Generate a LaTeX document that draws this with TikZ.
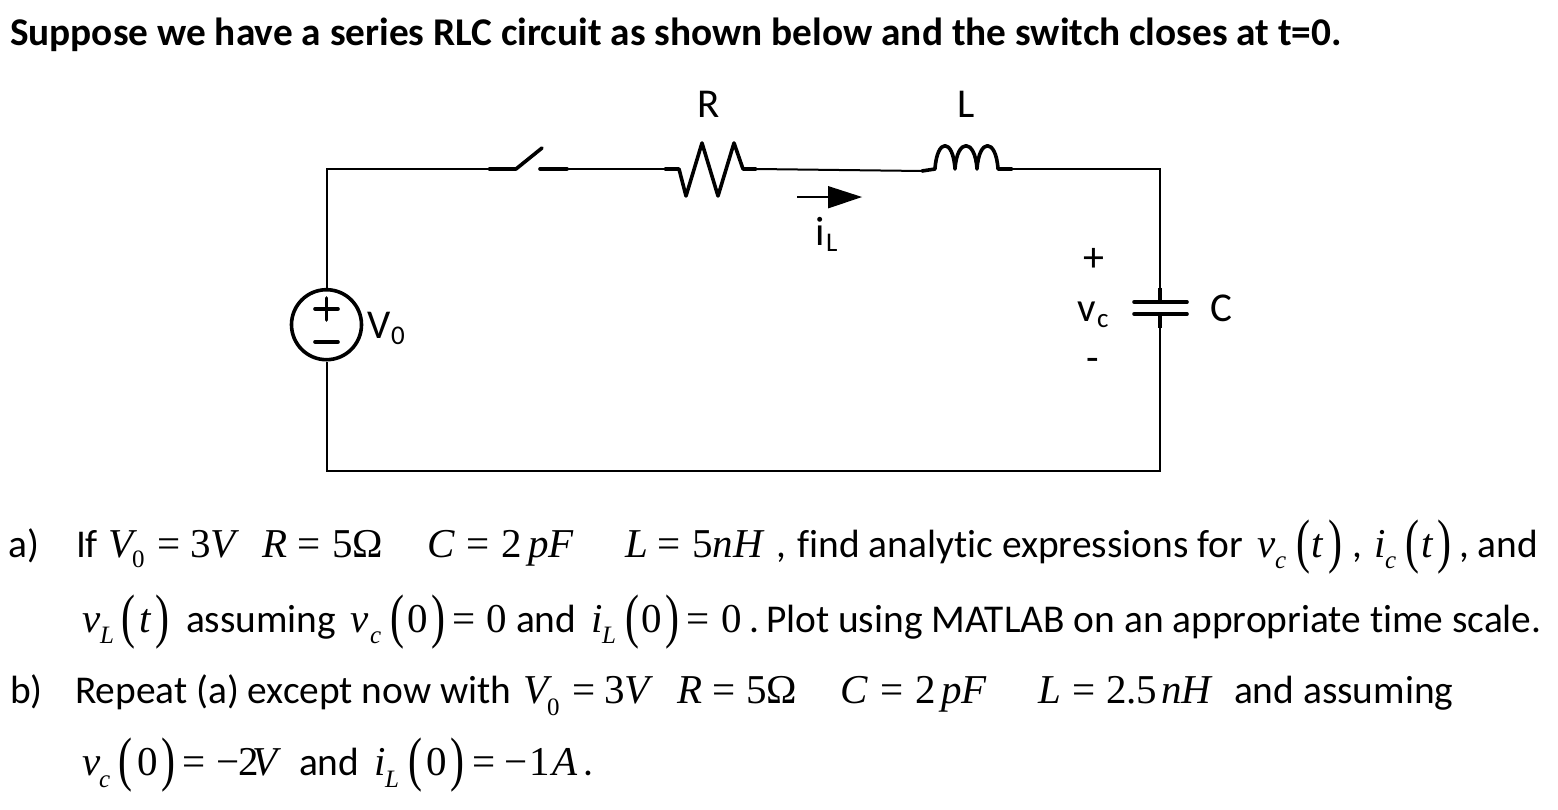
\documentclass[tikz,border=0pt]{standalone}
\usepackage{graphicx}
\usepackage{fontspec}
\setmainfont{Carlito}[Ligatures=NoCommon]
\newfontfamily\mathf{Liberation Serif}
\newcommand{\sz}[1]{\fontsize{#1}{#1}\selectfont}
\newcommand{\mi}[1]{{\mathf\itshape\sz{41}#1}}
\newcommand{\mr}[1]{{\mathf\sz{41}#1}}
\newcommand{\ms}[1]{{\mathf\itshape\sz{25}#1}}
\newcommand{\mz}[1]{{\mathf\sz{25}#1}}
\newcommand{\pl}{\raisebox{-4pt}{\scalebox{.7}[1]{\mathf\sz{60}(}}}
\newcommand{\pr}{\raisebox{-4pt}{\scalebox{.7}[1]{\mathf\sz{60})}}}
\newcommand{\tn}[4]{\node[txt] (#1) at (#2,#3) {#4};}
\tikzset{
  txt/.style={anchor=base west,inner sep=0pt,outer sep=0pt,font=\sz{39.4}},
  lbl/.style={anchor=base west,inner sep=0pt,outer sep=0pt,font=\sz{41}},
  sublbl/.style={anchor=base west,inner sep=0pt,outer sep=0pt,font=\sz{27}},
  ctxt/.style={anchor=base,inner sep=0pt,outer sep=0pt,font=\sz{41}},
  wire/.style={draw=black,line width=2pt},
  comp/.style={draw=black,line width=3.6pt,line cap=round,line join=round}
}
\begin{document}
\begin{tikzpicture}[x=1pt,y=-1pt]
\useasboundingbox (0,0) rectangle (1558,810);
% title
\node[txt,font=\sz{39.3}\bfseries] (title) at (10,46) {Suppose we have a series RLC circuit as shown below and the switch closes at t=0.};
% circuit points
\coordinate (sw1) at (489,169);
\coordinate (sw2) at (516,169);
\coordinate (sw3) at (542,148);
\coordinate (sw4) at (540,169);
\coordinate (sw5) at (567,169);
\coordinate (r1) at (665,169);
\coordinate (r2) at (756,169);
\coordinate (l1) at (922,171);
\coordinate (l2) at (1012,169);
\coordinate (tr) at (1160,169);
\coordinate (tl) at (326.5,169);
\coordinate (c1) at (1160,288);
\coordinate (c2) at (1160,302);
\coordinate (c3) at (1160,314);
\coordinate (c4) at (1160,328);
\coordinate (br) at (1160,471);
\coordinate (bl) at (326.5,471);
\node[draw=black,line width=3.6pt,circle,minimum size=70pt,inner sep=0pt] (src) at (326.5,324.7) {};
\draw[wire] (src.north) -- (tl) -- (sw1);
\draw[wire] (sw5) -- (r1);
\draw[wire] (r2) -- (l1);
\draw[wire] (l2) -- (tr) -- (c1);
\draw[wire] (c4) -- (br) -- (bl) -- (src.south);
% switch
\draw[comp] (sw1) -- (sw2) -- (sw3);
\draw[comp] (sw4) -- (sw5);
% resistor
\draw[comp] (r1) -- (679,169) -- (686,196) -- (702,143) -- (718,196) -- (734,143) -- (743,169) -- (r2);
% inductor
\draw[comp] (l1) -- (935,169) .. controls (937,138) and (953,138) .. (955,169)
  .. controls (957,138) and (975,138) .. (977,169)
  .. controls (979,138) and (996,138) .. (998,169) -- (l2);
% capacitor
\draw[comp,line cap=butt] (c1) -- (c2);
\draw[comp,line cap=butt] (c3) -- (c4);
\draw[comp] (1134,302) -- (1187,302);
\draw[comp] (1134,314) -- (1187,314);
% source signs
\draw[comp] (315,309) -- (338,309);
\draw[comp] (326.5,298) -- (326.5,320);
\draw[comp] (315,342) -- (338,342);
% current arrow
\coordinate (a1) at (797,197);
\coordinate (a2) at (828,197);
\draw[wire] (a1) -- (a2);
\fill[black] (828,186) -- (862,197) -- (828,208.5) -- cycle;
% circuit labels
\node[ctxt] (lR) at (709,118) {R};
\node[ctxt] (lL) at (966,118) {L};
\node[lbl] (lV) at (367,338) {V};
\node[sublbl] (lVs) at (391,344) {0};
\node[lbl] (li) at (815,246) {i};
\node[sublbl] (lis) at (826,252) {L};
\node[ctxt,font=\sz{42}] (lp) at (1094,272) {+};
\node[lbl] (lv) at (1077,322) {v};
\node[sublbl] (lvs) at (1097,327) {c};
\node[ctxt] (lm) at (1093,371) {-};
\node[lbl] (lC) at (1210,322) {C};
% line a
\tn{a0}{9}{557}{a)}
\tn{a1t}{76}{557}{If}
\tn{a2t}{108}{557}{\mi{V}}
\tn{a3}{132}{567}{\mz{0}}
\tn{a4}{157}{557}{\mr{=}}
\tn{a5}{190}{557}{\mr{3}\mi{V}}
\tn{a6}{262}{557}{\mi{R}}
\tn{a7}{297}{557}{\mr{=}}
\tn{a8}{332}{557}{\mr{5Ω}}
\tn{a9}{427}{557}{\mi{C}}
\tn{a10}{466}{557}{\mr{=}}
\tn{a11}{501}{557}{\mr{2}}
\tn{a11b}{528}{557}{\mi{pF}}
\tn{a12}{625}{557}{\mi{L}}
\tn{a13}{657}{557}{\mr{=}}
\tn{a14}{692}{557}{\mr{5}\mi{nH}}
\tn{a15}{776}{557}{,}
\tn{a15b}{797.5}{557}{find analytic expressions for}
\tn{a16}{1257}{557}{\mi{v}}
\tn{a17}{1275}{568}{\ms{c}}
\tn{a18}{1296}{557}{\pl}
\tn{a19}{1311}{557}{\mi{t}}
\tn{a20}{1328}{557}{\pr}
\tn{a21}{1352}{557}{,}
\tn{a22}{1374}{557}{\mi{i}}
\tn{a23}{1385}{568}{\ms{c}}
\tn{a24}{1405}{557}{\pl}
\tn{a25}{1421}{557}{\mi{t}}
\tn{a26}{1437}{557}{\pr}
\tn{a27}{1459}{557}{, and}
% line b
\tn{b1}{82}{632}{\mi{v}}
\tn{b2}{100}{643}{\ms{L}}
\tn{b3}{121}{632}{\pl}
\tn{b4}{139}{632}{\mi{t}}
\tn{b5}{155}{632}{\pr}
\tn{b6}{186}{632}{assuming}
\tn{b7}{350}{632}{\mi{v}}
\tn{b8}{370}{643}{\ms{c}}
\tn{b9}{390}{632}{\pl}
\tn{b10}{407}{632}{\mr{0}}
\tn{b11}{431}{632}{\pr}
\tn{b12}{452}{632}{\mr{=}}
\tn{b13}{486}{632}{\mr{0}}
\tn{b14}{516}{632}{and}
\tn{b15}{591}{632}{\mi{i}}
\tn{b16}{602}{643}{\ms{L}}
\tn{b17}{625}{632}{\pl}
\tn{b18}{641}{632}{\mr{0}}
\tn{b19}{665}{632}{\pr}
\tn{b20}{686}{632}{\mr{=}}
\tn{b21}{721}{632}{\mr{0}}
\tn{b22}{749}{632}{.}
\tn{b23}{766}{632}{Plot using MATLAB on an appropriate time scale.}
% line c
\tn{c0}{10}{703.5}{b)}
\tn{c1t}{75}{703.5}{Repeat (a) except now with}
\tn{c2t}{523}{703.5}{\mi{V}}
\tn{c3t}{547}{715}{\mz{0}}
\tn{c4t}{572}{703.5}{\mr{=}}
\tn{c5}{604}{703.5}{\mr{3}\mi{V}}
\tn{c6}{677}{703.5}{\mi{R}}
\tn{c7}{712}{703.5}{\mr{=}}
\tn{c8}{746}{703.5}{\mr{5Ω}}
\tn{c9}{840}{703.5}{\mi{C}}
\tn{c10}{880}{703.5}{\mr{=}}
\tn{c11}{915}{703.5}{\mr{2}}
\tn{c11b}{941}{703.5}{\mi{pF}}
\tn{c12}{1038}{703.5}{\mi{L}}
\tn{c13}{1072}{703.5}{\mr{=}}
\tn{c14}{1106}{703.5}{\mr{2.5}}
\tn{c14b}{1161}{703.5}{\mi{nH}}
\tn{c15}{1234}{703.5}{and assuming}
% line d
\tn{d1}{82}{775}{\mi{v}}
\tn{d2}{99}{787}{\ms{c}}
\tn{d3}{118}{775}{\pl}
\tn{d4}{137}{775}{\mr{0}}
\tn{d5}{161}{775}{\pr}
\tn{d6}{182}{775}{\mr{=}}
\tn{d7}{216}{775}{\mr{−}}
\tn{d7b}{238}{775}{\mr{2}}
\tn{d7c}{252}{775}{\mi{V}}
\tn{d8}{299}{775}{and}
\tn{d9}{374}{775}{\mi{i}}
\tn{d10}{385}{787}{\ms{L}}
\tn{d11}{408}{775}{\pl}
\tn{d12}{426}{775}{\mr{0}}
\tn{d13}{450}{775}{\pr}
\tn{d14}{472}{775}{\mr{=}}
\tn{d15}{504}{775}{\mr{−}}
\tn{d15b}{529}{775}{\mr{1}}
\tn{d15c}{552}{775}{\mi{A}}
\tn{d16}{583}{775}{.}
\end{tikzpicture}
\end{document}
